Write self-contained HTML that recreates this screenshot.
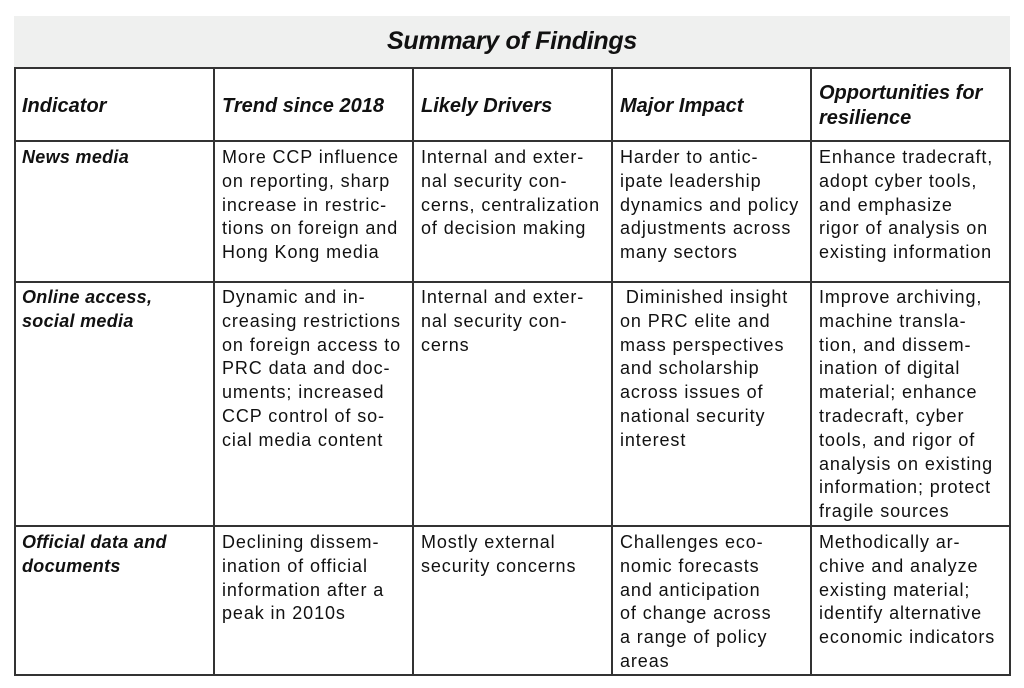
<!DOCTYPE html>
<html><head><meta charset="utf-8"><style>
body{margin:0;width:1024px;height:688px;background:#fff;position:relative;overflow:hidden;font-family:"Liberation Sans",sans-serif;color:#111}
.band{position:absolute;left:14px;top:16px;width:996px;height:52px;background:#eff0ef}
.title{position:absolute;left:14px;width:996px;top:27px;text-align:center;font-size:25px;font-weight:bold;font-style:italic;letter-spacing:-0.3px}
.h{position:absolute;background:#333;height:1.5px;left:14px;width:997px}
.v{position:absolute;background:#333;width:1.5px;top:68px;height:608px}
.c{position:absolute;font-size:18px;line-height:23.8px;white-space:nowrap;letter-spacing:0.9px}
.hd{position:absolute;font-size:20px;line-height:25px;font-weight:bold;font-style:italic;white-space:nowrap}
.b{font-weight:bold;font-style:italic;letter-spacing:0.3px}
</style></head><body>
<div class="band"></div>
<div class="title">Summary of Findings</div>
<div class="h" style="top:67px;height:2px"></div>
<div class="h" style="top:140px"></div>
<div class="h" style="top:281px"></div>
<div class="h" style="top:525px"></div>
<div class="h" style="top:674px"></div>
<div class="v" style="left:14px"></div>
<div class="v" style="left:213px"></div>
<div class="v" style="left:412px"></div>
<div class="v" style="left:611px"></div>
<div class="v" style="left:810px"></div>
<div class="v" style="left:1009px"></div>

<div class="hd" style="left:22px;top:94px">Indicator</div>
<div class="hd" style="left:222px;top:94px">Trend since 2018</div>
<div class="hd" style="left:421px;top:94px">Likely Drivers</div>
<div class="hd" style="left:620px;top:94px">Major Impact</div>
<div class="hd" style="left:819px;top:81px">Opportunities for<br>resilience</div>

<div class="c b" style="left:22px;top:146px">News media</div>
<div class="c" style="left:222px;top:146px">More CCP influence<br>on reporting, sharp<br>increase in restric-<br>tions on foreign and<br>Hong Kong media</div>
<div class="c" style="left:421px;top:146px">Internal and exter-<br>nal security con-<br>cerns, centralization<br>of decision making</div>
<div class="c" style="left:620px;top:146px">Harder to antic-<br>ipate leadership<br>dynamics and policy<br>adjustments across<br>many sectors</div>
<div class="c" style="left:819px;top:146px">Enhance tradecraft,<br>adopt cyber tools,<br>and emphasize<br>rigor of analysis on<br>existing information</div>

<div class="c b" style="left:22px;top:286px">Online access,<br>social media</div>
<div class="c" style="left:222px;top:286px">Dynamic and in-<br>creasing restrictions<br>on foreign access to<br>PRC data and doc-<br>uments; increased<br>CCP control of so-<br>cial media content</div>
<div class="c" style="left:421px;top:286px">Internal and exter-<br>nal security con-<br>cerns</div>
<div class="c" style="left:620px;top:286px">&nbsp;Diminished insight<br>on PRC elite and<br>mass perspectives<br>and scholarship<br>across issues of<br>national security<br>interest</div>
<div class="c" style="left:819px;top:286px">Improve archiving,<br>machine transla-<br>tion, and dissem-<br>ination of digital<br>material; enhance<br>tradecraft, cyber<br>tools, and rigor of<br>analysis on existing<br>information; protect<br>fragile sources</div>

<div class="c b" style="left:22px;top:531px">Official data and<br>documents</div>
<div class="c" style="left:222px;top:531px">Declining dissem-<br>ination of official<br>information after a<br>peak in 2010s</div>
<div class="c" style="left:421px;top:531px">Mostly external<br>security concerns</div>
<div class="c" style="left:620px;top:531px">Challenges eco-<br>nomic forecasts<br>and anticipation<br>of change across<br>a range of policy<br>areas</div>
<div class="c" style="left:819px;top:531px">Methodically ar-<br>chive and analyze<br>existing material;<br>identify alternative<br>economic indicators</div>
</body></html>
